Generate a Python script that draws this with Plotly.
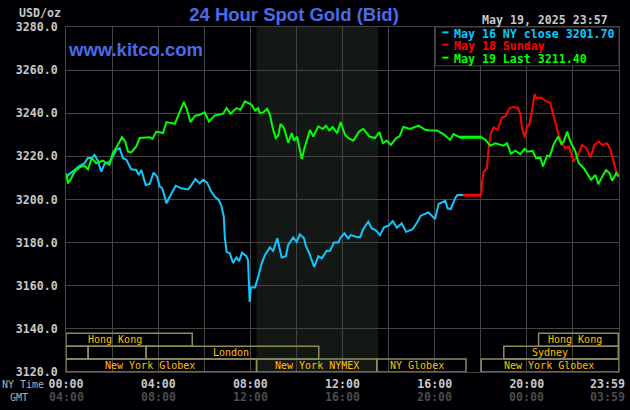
import plotly.graph_objects as go

# prices, time in hours since 00:00 NY
may16_hours = [0.01,0.15,0.37,0.59,0.80,0.95,1.11,1.24,1.38,1.53,1.67,1.89,2.03,2.18,2.33,2.47,2.62,2.83,3.05,3.15,3.27,3.46,3.63,3.80,3.95,4.07,4.18,4.36,4.50,4.76,5.01,5.30,5.44,5.62,5.80,5.95,6.12,6.31,6.46,6.63,6.75,6.85,6.89,6.97,7.11,7.25,7.40,7.51,7.64,7.83,7.90,7.93,7.97,8.02,8.20,8.34,8.49,8.63,8.85,8.99,9.17,9.36,9.54,9.64,9.86,10.01,10.15,10.33,10.41,10.56,10.77,10.95,11.10,11.31,11.46,11.63,11.82,11.92,12.08,12.25,12.36,12.59,12.76,12.90,13.12,13.27,13.44,13.63,13.80,13.99,14.18,14.36,14.57,14.76,15.03,15.23,15.40,15.73,16.02,16.17,16.46,16.56,16.70,16.89,16.99,17.25]
may16_price = [3210.3,3211.9,3213.7,3215.6,3216.8,3219.2,3219.2,3220.7,3217.9,3212.9,3216.5,3217.6,3219.9,3223.0,3223.8,3219.2,3218.4,3214.0,3213.7,3211.4,3213.7,3206.7,3207.2,3212.5,3210.6,3206.0,3205.2,3198.2,3201.3,3206.4,3205.2,3204.7,3206.7,3209.5,3207.5,3209.1,3207.8,3203.6,3201.3,3199.8,3196.7,3192.0,3182.7,3175.7,3175.0,3170.6,3173.1,3171.4,3175.3,3173.7,3171.9,3161.0,3152.5,3159.2,3159.2,3164.1,3170.3,3174.2,3177.8,3176.2,3182.0,3173.1,3173.7,3178.8,3182.4,3180.4,3183.8,3182.0,3178.5,3175.0,3168.7,3173.7,3172.7,3176.2,3176.2,3180.1,3180.1,3182.4,3184.3,3182.0,3183.5,3182.7,3182.4,3186.3,3189.7,3186.6,3185.8,3183.5,3187.1,3187.8,3190.0,3186.9,3188.9,3185.0,3186.1,3189.2,3192.5,3194.0,3190.9,3197.9,3199.4,3195.9,3195.6,3200.6,3202.1,3202.1]

may18_hours = [18.02,18.05,18.12,18.27,18.34,18.44,18.56,18.73,18.92,19.07,19.25,19.43,19.62,19.72,19.79,19.90,20.01,20.12,20.25,20.34,20.41,20.62,20.80,21.02,21.14,21.28,21.38,21.53,21.67,21.82,21.92,22.03,22.18,22.40,22.59,22.76,22.93,23.12,23.27,23.49,23.63,23.77,23.88,23.98]
may18_price = [3202.0,3207.5,3212.7,3214.5,3223.8,3230.8,3233.4,3232.3,3238.0,3238.5,3242.4,3242.9,3242.4,3239.3,3233.1,3228.9,3233.9,3235.0,3243.2,3248.9,3247.1,3247.3,3245.8,3244.7,3239.6,3233.9,3230.0,3226.1,3223.8,3224.6,3220.7,3217.6,3219.9,3225.3,3223.8,3219.4,3225.3,3226.9,3225.3,3226.1,3223.0,3217.6,3212.9,3211.7]
may18_flat_hours = [17.25,18.02]
may18_flat_price = [3202.0,3202.0]

may19_hours = [0.01,0.08,0.23,0.37,0.59,0.80,0.95,1.12,1.31,1.60,1.89,2.03,2.21,2.43,2.57,2.69,2.83,3.05,3.20,3.63,3.75,3.92,4.21,4.36,4.72,4.90,5.11,5.23,5.40,5.59,5.80,6.02,6.20,6.46,6.82,6.97,7.14,7.40,7.57,7.76,8.05,8.20,8.34,8.41,8.56,8.73,8.85,8.99,9.10,9.21,9.31,9.46,9.64,9.80,9.90,10.03,10.23,10.37,10.59,10.73,10.95,11.14,11.28,11.43,11.57,11.77,11.92,12.11,12.25,12.47,12.72,12.90,13.17,13.41,13.60,13.75,13.92,14.10,14.33,14.47,14.64,14.93,15.30,15.59,15.80,16.10,16.38,16.67,16.82,17.08,18.02,18.20,18.41,18.63,18.99,19.14,19.31,19.50,19.72,19.90,20.03,20.25,20.40,20.59,20.70,20.88,20.99,21.17,21.36,21.50,21.60,21.75,21.89,22.11,22.25,22.47,22.62,22.79,22.98,23.10,23.27,23.44,23.59,23.70,23.88,23.98]
may19_price = [3212.2,3207.5,3209.9,3212.9,3215.0,3215.6,3214.0,3219.2,3216.8,3218.0,3216.0,3221.5,3224.6,3228.9,3226.9,3222.2,3221.8,3224.6,3228.5,3228.9,3228.1,3231.5,3230.8,3235.9,3235.1,3240.1,3245.2,3242.4,3235.9,3238.8,3239.3,3240.4,3236.2,3239.0,3239.8,3242.4,3239.8,3242.4,3241.6,3245.5,3244.0,3241.3,3242.4,3240.1,3240.4,3242.1,3239.3,3232.3,3228.5,3229.7,3235.1,3233.1,3226.4,3230.8,3227.3,3229.2,3218.8,3224.6,3232.3,3229.2,3233.9,3232.7,3234.2,3232.0,3233.6,3230.8,3235.9,3230.0,3228.5,3227.3,3231.5,3232.8,3229.2,3228.5,3231.3,3226.1,3227.3,3225.3,3228.5,3229.2,3233.6,3232.7,3234.3,3232.3,3232.0,3232.0,3230.3,3227.7,3230.3,3228.9,3228.9,3227.7,3225.0,3226.1,3225.0,3226.1,3221.2,3222.6,3221.0,3223.5,3222.2,3222.6,3219.2,3219.4,3215.3,3220.4,3219.9,3225.7,3229.2,3225.7,3226.9,3231.5,3226.9,3222.2,3216.8,3214.5,3212.2,3209.1,3211.4,3207.1,3210.6,3213.7,3212.2,3208.7,3212.2,3210.6]
may19_flat_hours = [17.08,18.02]
may19_flat_price = [3228.9,3228.9]

price_ticks = [3120,3140,3160,3180,3200,3220,3240,3260,3280]
hour_ticks = [0,2,4,6,8,10,12,14,16,18,20,22]
ny_labels = ["00:00","","04:00","","08:00","","12:00","","16:00","","20:00",""]
gmt_hours = [0,4,8,12,16,20]
gmt_labels = ["04:00","08:00","12:00","16:00","20:00","00:00"]

legend_labels = ["May 16 NY close 3201.70","May 18 Sunday","May 19 Last 3211.40"]
legend_colors = ["#00ccff","#ff0000","#00ff00"]
legend_prices = [3276.9,3271.2,3265.2]

session_names = ["Hong Kong","","","London","New York Globex","New York NYMEX","NY Globex","New York Globex","Sydney","Hong Kong"]
session_start = [0,0,0.96,3.48,0,8.27,13.49,18.02,19.0,20.51]
session_end = [5.48,0.96,3.48,10.97,8.27,13.49,17.36,24,23.97,23.97]
session_row = [0,1,1,1,2,2,2,2,1,0]
session_label_hour = [2.13,0,0,7.15,3.65,10.89,15.22,20.98,21.0,22.07]
row_top = [3138,3132,3126]
row_bottom = [3132,3126,3120]

BG = "#000004"
GRID = "#444444"
BOX = "#8c8c5c"
AMBER = "#ffc000"
TITLE_BLUE = "#4a6ce8"
MONO = "DejaVu Sans Mono"


def outside_label(text, x, xref, yref_y, yshift, xshift, color, size=11.6, weight="bold"):
    # text outside the plot area, placed from a plot corner
    fig.add_annotation(x=x, xref=xref, y=yref_y, yref="paper", yshift=yshift, xshift=xshift, text=text,
                       showarrow=False, xanchor="center", yanchor="middle",
                       font=dict(family=MONO, size=size, color=color, weight=weight))


fig = go.Figure()
fig.add_trace(go.Scatter(x=may16_hours, y=may16_price, mode="lines", line=dict(color="#10c8ff", width=2)))
fig.add_trace(go.Scatter(x=may18_hours, y=may18_price, mode="lines", line=dict(color="#ff0000", width=2)))
fig.add_trace(go.Scatter(x=may18_flat_hours, y=may18_flat_price, mode="lines", line=dict(color="#ff0000", width=3)))
fig.add_trace(go.Scatter(x=may19_hours, y=may19_price, mode="lines", line=dict(color="#00ff00", width=2)))
fig.add_trace(go.Scatter(x=may19_flat_hours, y=may19_flat_price, mode="lines", line=dict(color="#00ff00", width=3)))

# NYMEX pit hours shading
fig.add_shape(type="rect", x0=8.27, x1=13.55, y0=3120, y1=3280, layer="below",
              fillcolor="#141814", line_width=0)

# legend box
fig.add_shape(type="rect", x0=16.04, x1=24, y0=3262, y1=3280, layer="between",
              fillcolor="#000004", line=dict(color=GRID, width=1))
for label, color, price in zip(legend_labels, legend_colors, legend_prices):
    fig.add_shape(type="line", x0=16.33, x1=16.6, y0=price+0.6, y1=price+0.6, line=dict(color=color, width=2))
    fig.add_annotation(x=16.75, y=price, text=label, showarrow=False, xanchor="left", yanchor="middle",
                       font=dict(family=MONO, size=11.6, color=color, weight="bold"))

# trading sessions
for name, start, end, row, lab in zip(session_names, session_start, session_end, session_row, session_label_hour):
    fig.add_shape(type="rect", x0=start, x1=end, y0=row_bottom[row], y1=row_top[row], layer="between",
                  line=dict(color=BOX, width=1.5))
    if name:
        fig.add_annotation(x=lab, y=(row_top[row]+row_bottom[row])/2, text=name, showarrow=False,
                           yanchor="middle", font=dict(family=MONO, size=10, color=AMBER))

# second time row + stuff outside the plot
for h, lab in zip(gmt_hours, gmt_labels):
    outside_label(lab, h, "x", 0, -25, 0, "#4c4c4c")
outside_label("23:59", 24, "x", 0, -11.5, -11.5, "#c8c8c8")
outside_label("03:59", 24, "x", 0, -25, -11.5, "#4c4c4c")
outside_label("NY Time", 0, "x", 0, -12, -43, "#b0b0b0", size=10, weight="normal")
outside_label("GMT", 0, "x", 0, -25, -47, "#b0b0b0", size=10, weight="normal")
outside_label("USD/oz", 0, "x", 1, 14, -26, "#c8c8c8")
outside_label("May 19, 2025 23:57", 1, "paper", 1, 7, -74, "#c8c8c8")
fig.add_annotation(x=0, y=1, yref="paper", yshift=-22, xshift=0, xanchor="left", yanchor="middle",
                   text="www.kitco.com", showarrow=False,
                   font=dict(family="Liberation Sans", size=18.5, color=TITLE_BLUE, weight="bold"))

fig.update_layout(
    width=630, height=410,
    margin=dict(l=66, r=11, t=27, b=38),
    paper_bgcolor=BG, plot_bgcolor=BG,
    showlegend=False,
    title=dict(text="24 Hour Spot Gold (Bid)", x=294/630, xanchor="center", y=1-15/410, yanchor="middle",
               font=dict(family="Liberation Sans", size=18.5, color=TITLE_BLUE, weight="bold")),
)
fig.update_xaxes(range=[0,24], tickvals=hour_ticks, ticktext=ny_labels, showgrid=True, gridcolor=GRID, gridwidth=1,
                 showline=True, linecolor=GRID, mirror=True, zeroline=False,
                 ticks="outside", ticklen=1, tickcolor=BG,
                 tickfont=dict(family=MONO, size=11.6, color="#c8c8c8", weight="bold"))
fig.update_yaxes(range=[3120,3280], tickvals=price_ticks, tickformat=".1f", showgrid=True, gridcolor=GRID, gridwidth=1,
                 showline=True, linecolor=GRID, mirror=True, zeroline=False,
                 ticks="outside", ticklen=5, tickcolor=BG,
                 tickfont=dict(family=MONO, size=11.6, color="#c8c8c8", weight="bold"))

fig.write_html("out.html", config=dict(displayModeBar=False), post_script="document.body.style.margin='0';")
